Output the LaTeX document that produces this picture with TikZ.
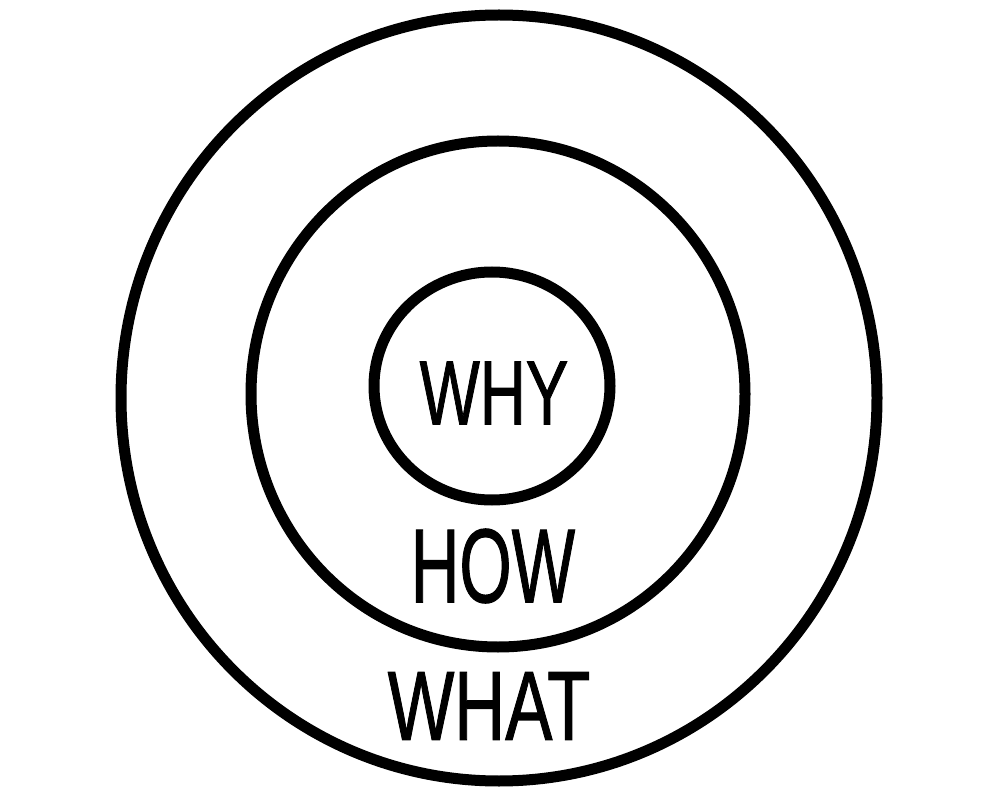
\documentclass[tikz,border=0pt]{standalone}
\usepackage{fontspec}
\setmainfont{Liberation Sans}
\newfontfamily\handfont[FakeBold=1.2]{Liberation Sans}
\usetikzlibrary{shapes.geometric}
\begin{document}
\begin{tikzpicture}[x=1pt,y=-1pt,
  ring/.style={draw=black, ellipse, line width=11pt, inner sep=0pt, outer sep=0pt},
  word/.style={text=black, inner sep=0pt, anchor=center}]
\useasboundingbox[fill=white] (0,0) rectangle (1002,794);
\node[ring, minimum width=756pt, minimum height=766pt] (outer) at (499,398) {};
\node[ring, minimum width=494pt, minimum height=506pt] (middle) at (498,394) {};
\node[ring, minimum width=236pt, minimum height=228pt] (inner) at (492,386) {};
\node[word, font=\handfont\fontsize{91}{91}\selectfont] (why) at (494,393) {\scalebox{0.70}[1]{WHY}};
\node[word, font=\handfont\fontsize{105}{105}\selectfont] (how) at (493,566) {\scalebox{0.64}[1]{HOW}};
\node[word, font=\handfont\fontsize{98}{98}\selectfont] (what) at (489,706) {\scalebox{0.72}[1]{WHAT}};
\end{tikzpicture}
\end{document}
